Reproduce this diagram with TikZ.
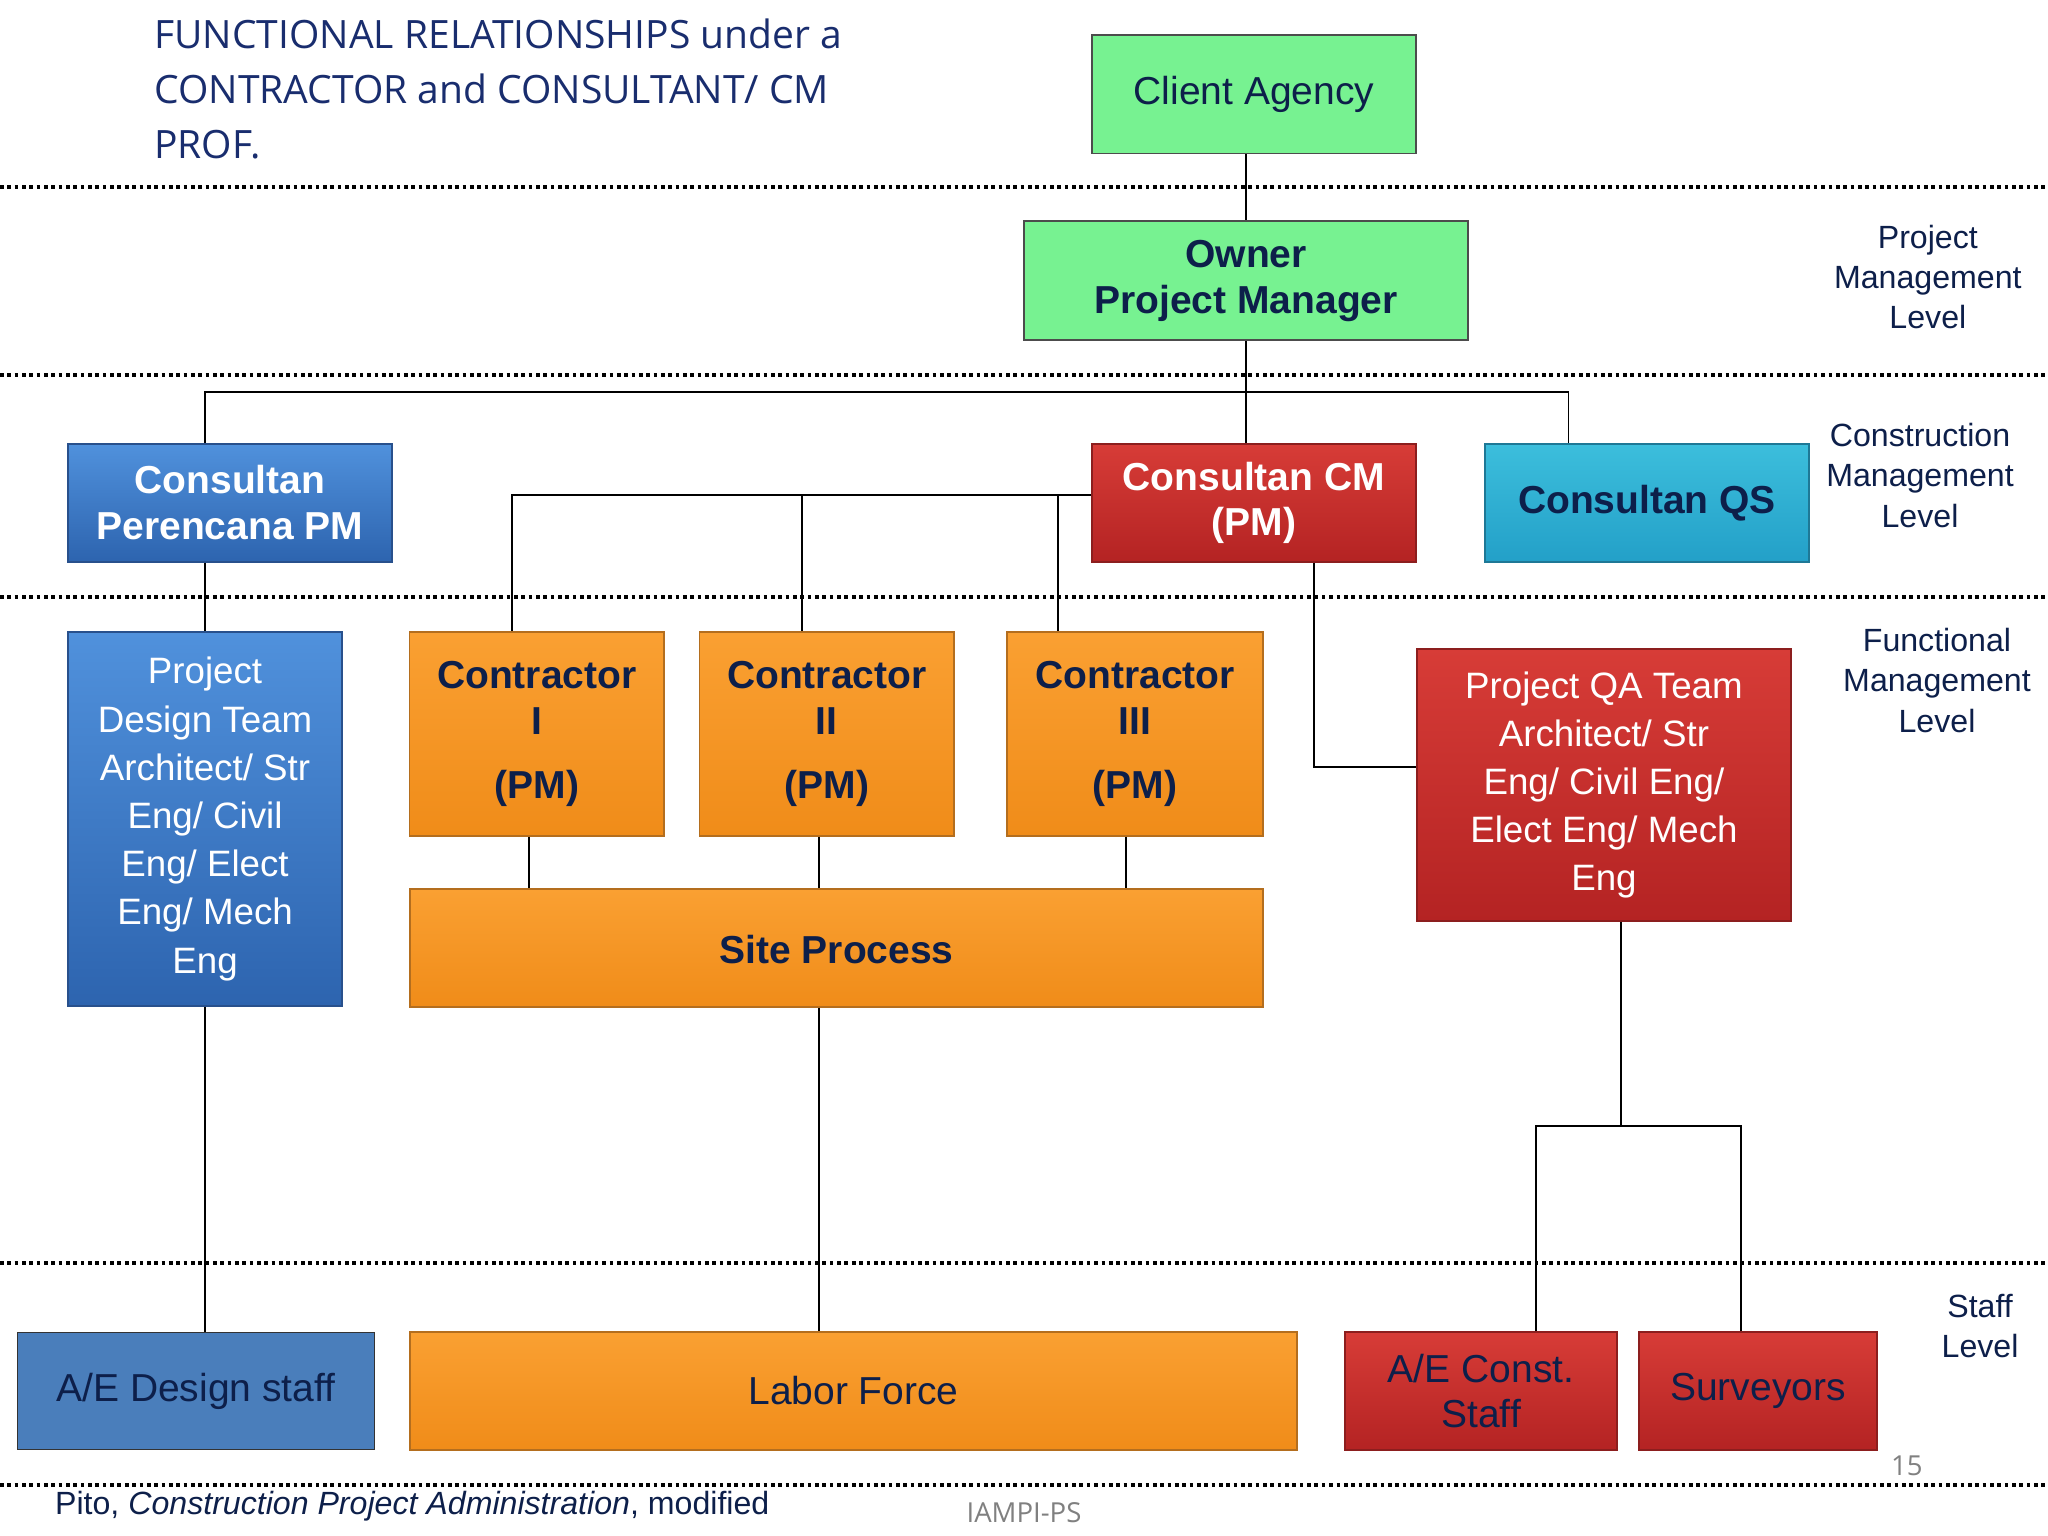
\documentclass[tikz,border=0pt]{standalone}
\usepackage{fontspec}
\setmainfont{Liberation Sans}
\newfontfamily\titlefont{Open Sans}
\begin{document}
\begin{tikzpicture}[x=0.02cm,y=-0.02cm,
 box/.style={draw=#1!70!black,line width=0.8pt,inner sep=2pt,align=center,font=\fontsize{17}{20}\selectfont\bfseries},
 grn/.style={box=green,fill={rgb,255:red,119;green,242;blue,145},text={rgb,255:red,13;green,31;blue,74},font=\fontsize{17}{20}\selectfont,draw=black!70},
 blu/.style={box=blue,top color={rgb,255:red,80;green,145;blue,220},bottom color={rgb,255:red,45;green,100;blue,175},text=white,draw={rgb,255:red,40;green,80;blue,140}},
 red/.style={box=red,top color={rgb,255:red,215;green,60;blue,55},bottom color={rgb,255:red,180;green,35;blue,35},text=white,draw={rgb,255:red,140;green,30;blue,30}},
 org/.style={box=orange,top color={rgb,255:red,250;green,160;blue,50},bottom color={rgb,255:red,240;green,140;blue,25},text={rgb,255:red,13;green,31;blue,74},draw={rgb,255:red,180;green,110;blue,30}},
 cyn/.style={box=cyan,top color={rgb,255:red,60;green,190;blue,220},bottom color={rgb,255:red,35;green,160;blue,200},text={rgb,255:red,13;green,31;blue,74},draw={rgb,255:red,30;green,120;blue,150}},
 nb/.style={font=\fontsize{17}{20}\selectfont},
 lvl/.style={align=center,text={rgb,255:red,13;green,31;blue,74},font=\fontsize{14}{17.5}\selectfont},
 dot/.style={line width=1.6pt,dash pattern=on 1.6pt off 1.6pt},
 ln/.style={line width=0.7pt}]
\useasboundingbox (0,0) rectangle (1568,1176);
\fill[white] (0,0) rectangle (1568,1176);
\foreach \y in {143,287,457,967,1137} \draw[dot] (0,\y) -- (1568,\y);
\node[anchor=north west,align=left,text={rgb,255:red,25;green,45;blue,110},font=\titlefont\fontsize{17}{24}\selectfont] (title) at (112,8) {FUNCTIONAL RELATIONSHIPS under a\\CONTRACTOR and CONSULTANT/ CM\\PROF.};
% boxes
\node[grn,minimum width=248*0.02cm,minimum height=91*0.02cm] (client) at (960,72) {Client Agency};
\node[grn,font=\fontsize{17}{20}\selectfont\bfseries,minimum width=340*0.02cm,minimum height=91*0.02cm] (owner) at (954,215) {Owner\\Project Manager};
\node[blu,minimum width=248*0.02cm,minimum height=90*0.02cm] (cpm) at (176,385) {Consultan\\Perencana PM};
\node[red,minimum width=248*0.02cm,minimum height=90*0.02cm] (ccm) at (960,385) {Consultan CM\\(PM)};
\node[cyn,minimum width=248*0.02cm,minimum height=90*0.02cm] (cqs) at (1261,385) {Consultan QS};
\node[blu,font=\fontsize{16}{21}\selectfont,minimum width=210*0.02cm,minimum height=286*0.02cm] (pdt) at (157,627) {Project\\Design Team\\Architect/ Str\\Eng/ Civil\\Eng/ Elect\\Eng/ Mech\\Eng};
\node[org,minimum width=195*0.02cm,minimum height=156*0.02cm] (c1) at (411,562) {Contractor\\I\\[8pt](PM)};
\node[org,minimum width=195*0.02cm,minimum height=156*0.02cm] (c2) at (633,562) {Contractor\\II\\[8pt](PM)};
\node[org,minimum width=196*0.02cm,minimum height=156*0.02cm] (c3) at (869,562) {Contractor\\III\\[8pt](PM)};
\node[org,minimum width=653*0.02cm,minimum height=90*0.02cm,text height=14pt,anchor=north] (site) at (640.5,680) {Site Process};
\node[red,font=\fontsize{16}{21}\selectfont,minimum width=286*0.02cm,minimum height=208*0.02cm] (qa) at (1228,601) {Project QA Team\\Architect/ Str\\Eng/ Civil Eng/\\Elect Eng/ Mech\\Eng};
\node[nb,draw=black!80,fill={rgb,255:red,74;green,126;blue,187},text={rgb,255:red,13;green,31;blue,74},minimum width=274*0.02cm,minimum height=90*0.02cm] (aed) at (150,1065) {A/E Design staff};
\node[org,font=\fontsize{17}{20}\selectfont,minimum width=679*0.02cm,minimum height=90*0.02cm] (labor) at (653.5,1065) {Labor Force};
\node[red,font=\fontsize{17}{20}\selectfont,text={rgb,255:red,13;green,31;blue,74},minimum width=208*0.02cm,minimum height=90*0.02cm] (aec) at (1134,1065) {A/E Const.\\Staff};
\node[red,font=\fontsize{17}{20}\selectfont,text={rgb,255:red,13;green,31;blue,74},minimum width=182*0.02cm,minimum height=90*0.02cm] (surv) at (1346,1065) {Surveyors};
% level labels
\node[lvl] (l1) at (1476,212) {Project\\Management\\Level};
\node[lvl] (l2) at (1470,364) {Construction\\Management\\Level};
\node[lvl] (l3) at (1483,521) {Functional\\Management\\Level};
\node[lvl] (l4) at (1516,1015) {Staff\\Level};
% footer
\node[anchor=west,font=\fontsize{14}{16}\selectfont,text={rgb,255:red,13;green,31;blue,74}] (ft) at (36,1153) {Pito, \textit{Construction Project Administration}, modified};
\node[font=\titlefont\fontsize{12}{14}\selectfont,text=gray] (ia) at (784,1158) {IAMPI-PS};
\node[font=\titlefont\fontsize{12}{14}\selectfont,text=gray] (pg) at (1460,1122) {15};
% connectors
\coordinate (b1) at (157,300); \coordinate (b2) at (1201,300);
\draw[ln] (client.south -| 954,0) -- (owner.north -| 954,0);
\draw[ln] (owner.south -| 954,0) -- (ccm.north -| 954,0);
\draw[ln] (cpm.north -| b1) -- (b1) -- (b2) -- (cqs.north -| b2);
\draw[ln] (cpm.south -| 157,0) -- (pdt.north);
\draw[ln] (pdt.south) -- (aed.north -| 157,0);
\coordinate (h1) at (392,379); \coordinate (h2) at (614,379); \coordinate (h3) at (810,379);
\draw[ln] (ccm.west |- h1) -- (h1) -- (c1.north -| h1);
\draw[ln] (h2) -- (c2.north -| h2);
\draw[ln] (h3) -- (c3.north -| h3);
\coordinate (q1) at (1006,587);
\draw[ln] (ccm.south -| q1) -- (q1) -- (qa.west |- q1);
\draw[ln] (c1.south -| 405,0) -- (site.north -| 405,0);
\draw[ln] (c2.south -| 627,0) -- (site.north -| 627,0);
\draw[ln] (c3.south -| 862,0) -- (site.north -| 862,0);
\draw[ln] (site.south -| 627,0) -- (labor.north -| 627,0);
\coordinate (s0) at (1241,862); \coordinate (s1) at (1176,862); \coordinate (s2) at (1333,862);
\draw[ln] (qa.south -| s0) -- (s0);
\draw[ln] (aec.north -| s1) -- (s1) -- (s2) -- (surv.north -| s2);
\end{tikzpicture}
\end{document}
